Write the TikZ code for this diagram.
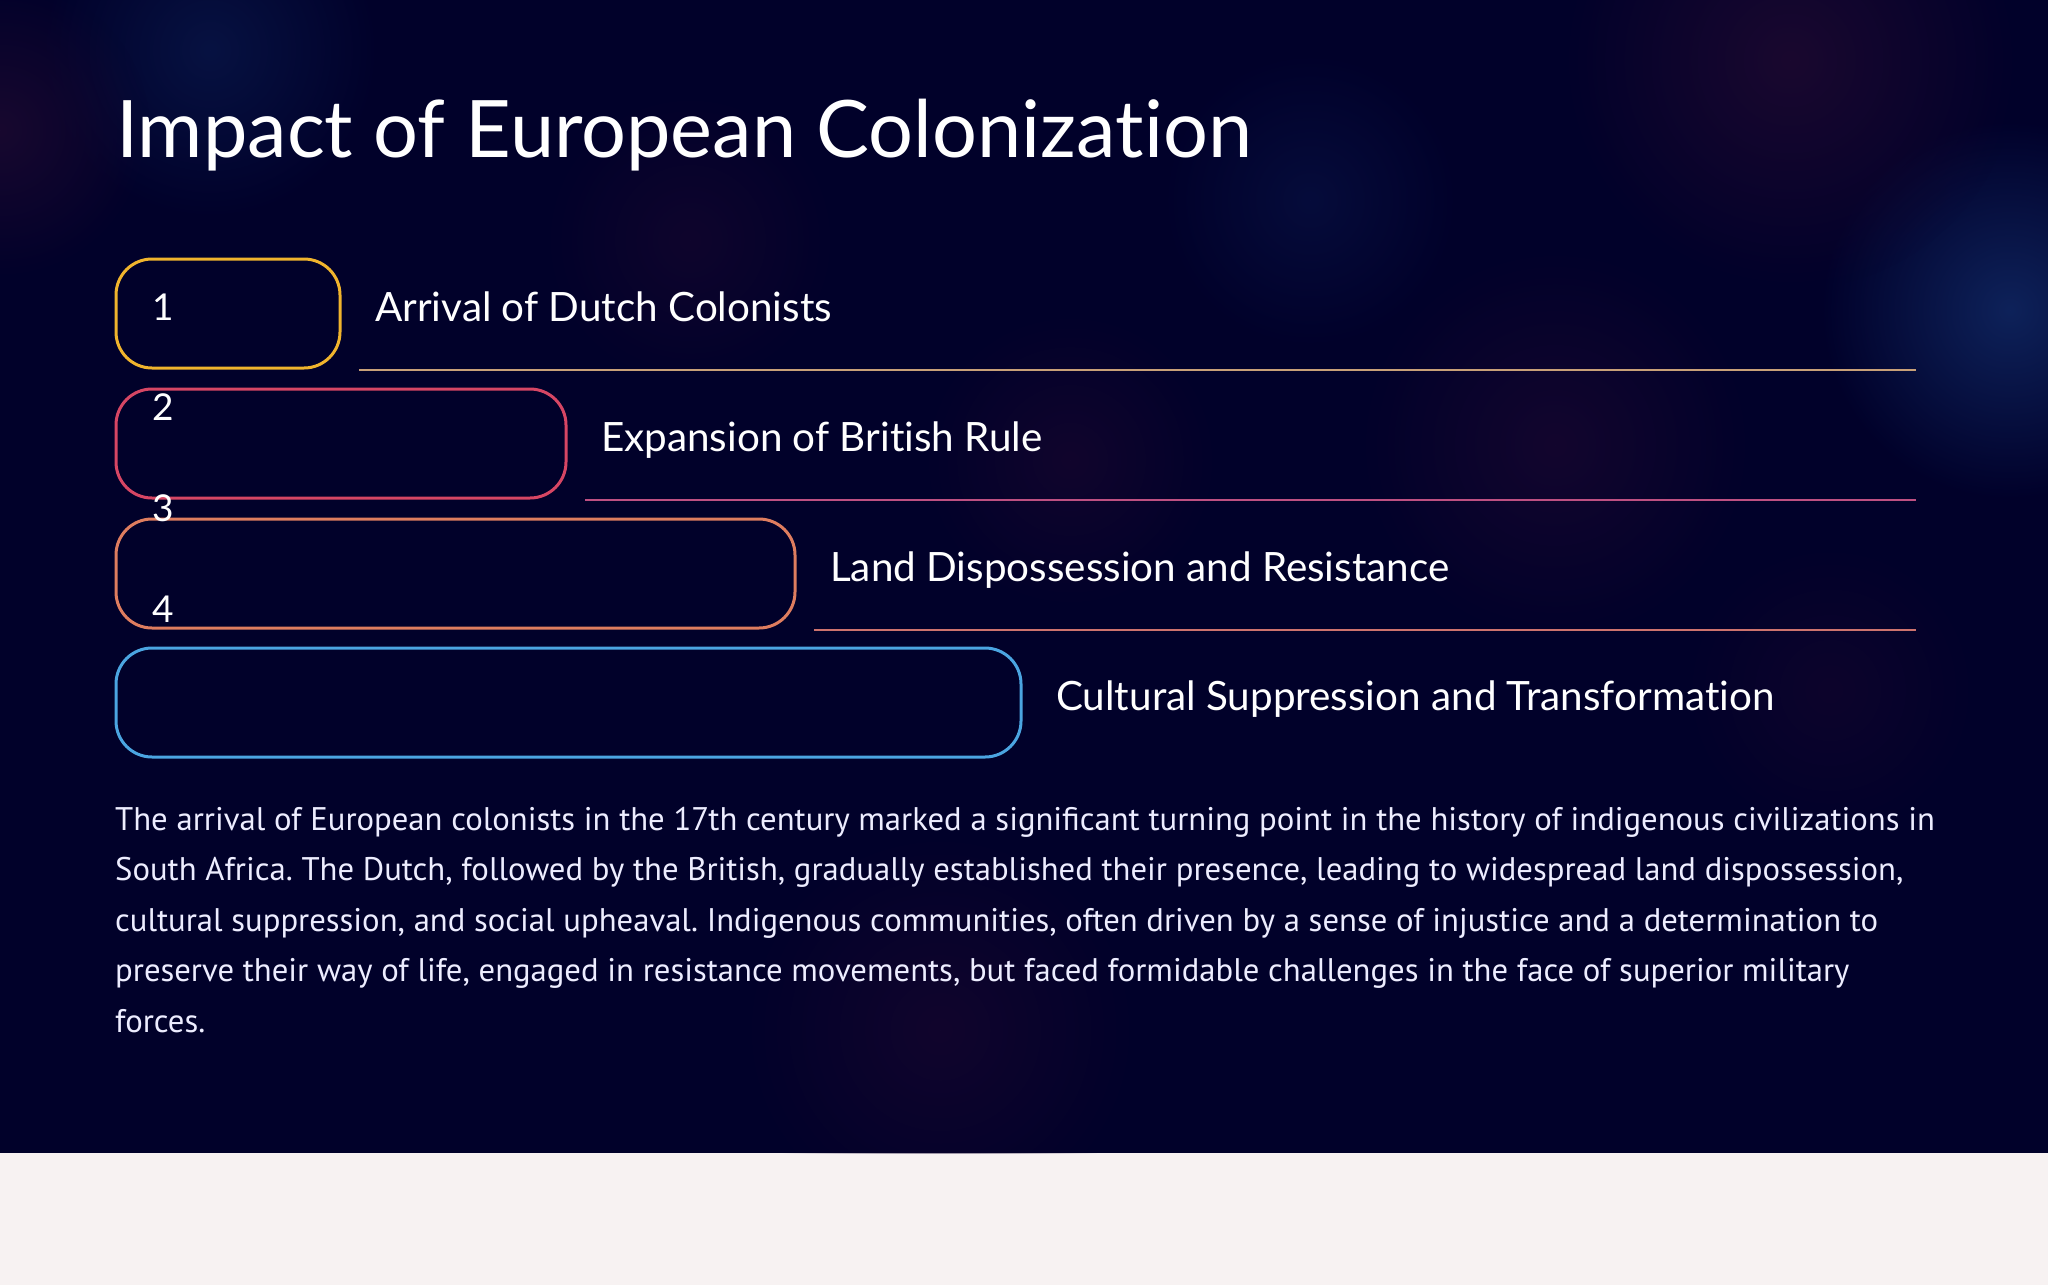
\documentclass[tikz,border=0pt]{standalone}
\usepackage{fontspec}
\setmainfont{Lato}[Ligatures=NoCommon]
\newfontfamily\bodyfont{PT Sans}
\usetikzlibrary{positioning,calc,fadings}

\definecolor{bgnavy}{RGB}{1,1,42}
\definecolor{paper}{RGB}{247,242,242}
\definecolor{stageyellow}{RGB}{240,180,45}
\definecolor{stagetan}{RGB}{200,160,120}
\definecolor{stagerose}{RGB}{214,70,100}
\definecolor{stagemauve}{RGB}{190,80,130}
\definecolor{stagecoral}{RGB}{222,125,95}
\definecolor{stagesalmon}{RGB}{205,115,110}
\definecolor{stageblue}{RGB}{75,165,225}
\definecolor{glowblue}{RGB}{14,34,90}
\definecolor{glowred}{RGB}{40,12,50}

\tikzfading[name=glowfade, inner color=transparent!0, outer color=transparent!100]

\tikzset{
  stagebox/.style={draw, line width=3pt, rounded corners=36pt, inner sep=0pt, outer sep=0pt,
    anchor=north west, minimum height=109pt},
  stageline/.style={line width=2pt},
  stagelabel/.style={text=white, inner sep=0pt, font=\fontsize{40.4}{46}\selectfont},
  stagenum/.style={text=white, inner sep=0pt, anchor=base west, font=\fontsize{37}{44}\selectfont},
  glow/.style={path fading=glowfade}
}

\begin{document}
\frenchspacing
\begin{tikzpicture}[x=1pt,y=-1pt]
\useasboundingbox (0,0) rectangle (2048,1285);
\fill[bgnavy] (0,0) rectangle (2048,1153);
\fill[paper] (0,1153) rectangle (2048,1285);

% soft background glows
\begin{scope}
\clip (0,0) rectangle (2048,1153);
\fill[glow, glowblue] (2010,310) circle (190);
\fill[glow, glowred!65!bgnavy] (1790,60) circle (230);
\fill[glow, glowblue!50!bgnavy] (210,50) circle (170);
\fill[glow, glowred!60!bgnavy] (0,130) circle (150);
\fill[glow, glowred!45!bgnavy] (1555,445) circle (200);
\fill[glow, glowred!40!bgnavy] (940,1030) circle (200);
\fill[glow, glowred!40!bgnavy] (1070,460) circle (150);
\fill[glow, glowred!35!bgnavy] (690,240) circle (150);
\fill[glow, glowblue!35!bgnavy] (1310,200) circle (150);
\fill[glow, glowred!30!bgnavy] (1830,690) circle (150);
\end{scope}

\node[text=white, inner sep=0pt, anchor=base west, font=\fontsize{79.3}{90}\selectfont]
  (title) at (116,157) {Impact of European Colonization};

\node[stagebox, draw=stageyellow, minimum width=224pt] (box1) at (116,259) {};
\node[stagebox, draw=stagerose, minimum width=450pt] (box2) at (116,389) {};
\node[stagebox, draw=stagecoral, minimum width=679pt] (box3) at (116,519) {};
\node[stagebox, draw=stageblue, minimum width=905pt] (box4) at (116,648) {};

\node[stagelabel, right=35pt of box1.east, anchor=base west, yshift=-8pt] (label1) {Arrival of Dutch Colonists};
\node[stagelabel, right=35pt of box2.east, anchor=base west, yshift=-8pt] (label2) {Expansion of British Rule};
\node[stagelabel, right=35pt of box3.east, anchor=base west, yshift=-8pt] (label3) {Land Dispossession and Resistance};
\node[stagelabel, right=35pt of box4.east, anchor=base west, yshift=-8pt] (label4) {Cultural Suppression and Transformation};

\coordinate (end1) at (1916,370);
\coordinate (end2) at (1916,500);
\coordinate (end3) at (1916,630);
\draw[stageline, stagetan] ($(box1.south east)+(19,2)$) -- (end1);
\draw[stageline, stagemauve] ($(box2.south east)+(19,2)$) -- (end2);
\draw[stageline, stagesalmon] ($(box3.south east)+(19,2)$) -- (end3);

\node[stagenum] (num1) at (152,320) {1};
\node[stagenum] (num2) at (152,420) {2};
\node[stagenum] (num3) at (152,521) {3};
\node[stagenum] (num4) at (152,622) {4};

\node[anchor=north west, inner sep=0pt, align=left, text=white!93!blue,
  font=\bodyfont\fontsize{32.7}{50.5}\selectfont] (body) at (115,807)
  {The arrival of European colonists in the 17th century marked a significant turning point in the history of indigenous civilizations in\\
   South Africa. The Dutch, followed by the British, gradually established their presence, leading to widespread land dispossession,\\
   cultural suppression, and social upheaval. Indigenous communities, often driven by a sense of injustice and a determination to\\
   preserve their way of life, engaged in resistance movements, but faced formidable challenges in the face of superior military\\
   forces.};
\end{tikzpicture}
\end{document}
